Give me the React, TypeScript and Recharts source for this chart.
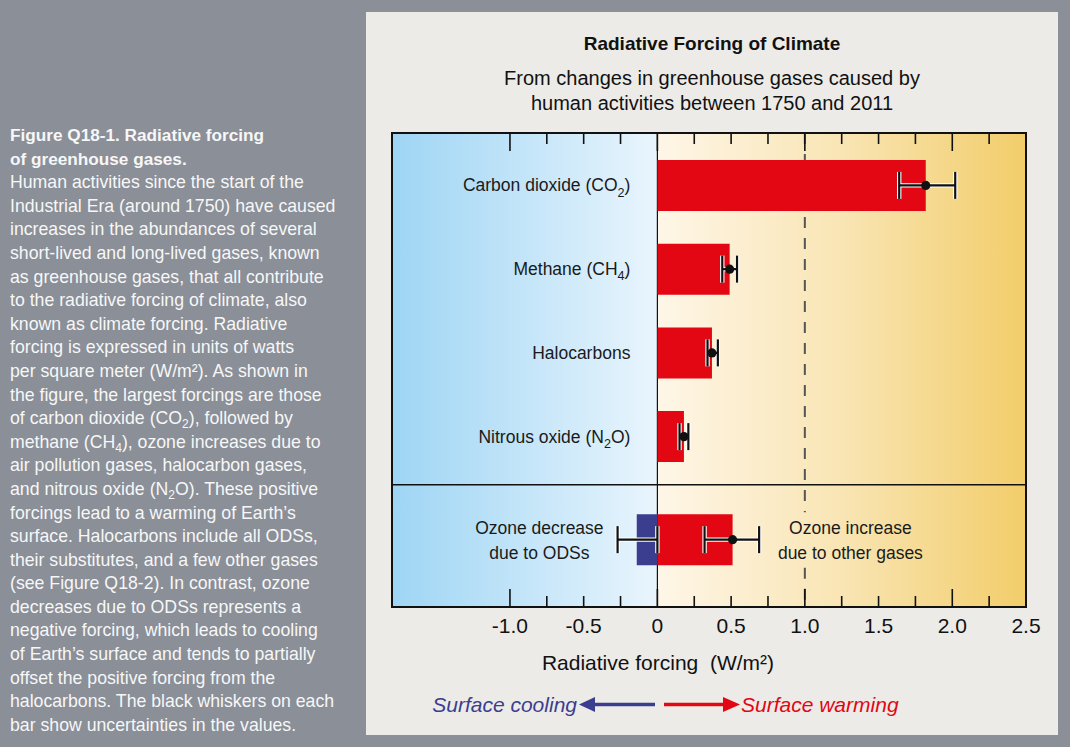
import React from "react";
import { Bar, BarChart, ErrorBar, ReferenceArea, ReferenceLine, XAxis, YAxis } from "recharts";

// rows of the chart, top to bottom; "_2" marks a subscript
const GASES = ["Carbon dioxide (CO_2)", "Methane (CH_4)", "Halocarbons", "Nitrous oxide (N_2O)", "Ozone"];
const ROW = [1, 2, 3, 4, 5.23];
const WARMING = [1.82, 0.49, 0.37, 0.18, 0.51];
const WARMING_LOW = [1.64, 0.44, 0.34, 0.15, 0.32];
const WARMING_HIGH = [2.02, 0.54, 0.41, 0.21, 0.69];
const COOLING: (number | null)[] = [null, null, null, null, -0.14];
const COOLING_LOW: (number | null)[] = [null, null, null, null, -0.27];
const COOLING_HIGH: (number | null)[] = [null, null, null, null, 0.0];
const OZONE_DECREASE = ["Ozone decrease", "due to ODSs"];
const OZONE_INCREASE = ["Ozone increase", "due to other gases"];

const X_DOMAIN: [number, number] = [-1.8, 2.5];
const X_TICKS = [-1, -0.75, -0.5, -0.25, 0, 0.25, 0.5, 0.75, 1, 1.25, 1.5, 1.75, 2, 2.25, 2.5];
const X_LABELED = [-1, -0.5, 0, 0.5, 1, 1.5, 2, 2.5];
const Y_DOMAIN: [number, number] = [0.37, 6.03];
const SECTION_SPLIT = 4.57;
const REFERENCE_LEVEL = 1.0;
// the dashed 1.0 line stops around the ozone labels
const LABEL_GAP = 0.33;

const CAPTION_TITLE = ["Figure Q18-1. Radiative forcing", "of greenhouse gases."];
const CAPTION = [
    "Human activities since the start of the",
    "Industrial Era (around 1750) have caused",
    "increases in the abundances of several",
    "short-lived and long-lived gases, known",
    "as greenhouse gases, that all contribute",
    "to the radiative forcing of climate, also",
    "known as climate forcing. Radiative",
    "forcing is expressed in units of watts",
    "per square meter (W/m\u00b2). As shown in",
    "the figure, the largest forcings are those",
    "of carbon dioxide (CO_2), followed by",
    "methane (CH_4), ozone increases due to",
    "air pollution gases, halocarbon gases,",
    "and nitrous oxide (N_2O). These positive",
    "forcings lead to a warming of Earth\u2019s",
    "surface. Halocarbons include all ODSs,",
    "their substitutes, and a few other gases",
    "(see Figure Q18-2). In contrast, ozone",
    "decreases due to ODSs represents a",
    "negative forcing, which leads to cooling",
    "of Earth\u2019s surface and tends to partially",
    "offset the positive forcing from the",
    "halocarbons. The black whiskers on each",
    "bar show uncertainties in the values.",
];

const FONT = '"Liberation Sans", Arial, sans-serif';
const RED = "#e30613";
const BLUE = "#3b3e8f";

const data = GASES.map((name, i) => {
    const cool = COOLING[i];
    return {
        name,
        row: ROW[i],
        warm: WARMING[i],
        warmErr: [WARMING[i] - WARMING_LOW[i], WARMING_HIGH[i] - WARMING[i]],
        cool: cool ?? undefined,
        coolErr:
            cool == null ? undefined : [cool - (COOLING_LOW[i] as number), (COOLING_HIGH[i] as number) - cool],
    };
});

const ozoneRow = ROW[ROW.length - 1];

function svgRich(s: string, size: number) {
    const parts = s.split(/_(\d)/);
    return parts.map((p, k) =>
        k % 2 === 1 ? (
            <tspan key={k} fontSize={size * 0.72} dy={size * 0.3}>
                {p}
            </tspan>
        ) : (
            <tspan key={k} dy={k > 0 ? -size * 0.3 : 0}>
                {p}
            </tspan>
        )
    );
}

function htmlRich(s: string) {
    const parts = s.split(/_(\d)/);
    return parts.map((p, k) =>
        k % 2 === 1 ? (
            <sub key={k} style={{ fontSize: "0.68em", verticalAlign: "-0.3em", lineHeight: 0 }}>
                {p}
            </sub>
        ) : (
            <React.Fragment key={k}>{p}</React.Fragment>
        )
    );
}

function TwoLines({ x, cy, lines }: { x: number; cy: number; lines: string[] }) {
    return (
        <text x={x} textAnchor="middle" fontSize={17.5} fill="#1a1a1a" fontFamily={FONT}>
            {lines.map((l, k) => (
                <tspan key={k} x={x} y={cy - 12 + k * 25 + 6}>
                    {l}
                </tspan>
            ))}
        </text>
    );
}

function box(props: any) {
    const vb = props.viewBox && props.viewBox.width !== undefined ? props.viewBox : props;
    const left = Math.min(vb.x, vb.x + vb.width);
    const right = Math.max(vb.x, vb.x + vb.width);
    return { left, right, cy: vb.y + vb.height / 2 };
}

function WarmMarks(props: any) {
    const d = data[props.index];
    if (!d) return null;
    const { left, right, cy } = box(props);
    return (
        <g>
            <circle cx={right} cy={cy} r={4.6} fill="#111" />
            {d.cool == null ? (
                <text x={left - 27} y={cy + 6} textAnchor="end" fontSize={17.5} fill="#1a1a1a" fontFamily={FONT}>
                    {svgRich(d.name, 17.5)}
                </text>
            ) : (
                <>
                    <TwoLines x={left - 118} cy={cy} lines={OZONE_DECREASE} />
                    <TwoLines x={left + 193} cy={cy} lines={OZONE_INCREASE} />
                </>
            )}
        </g>
    );
}

function CoolMarks(props: any) {
    const d = data[props.index];
    if (!d || d.cool == null) return null;
    const { left, cy } = box(props);
    return <circle cx={left} cy={cy} r={4.6} fill="#111" />;
}

function BottomTick({ x, y, payload }: any) {
    const v = payload.value;
    const len = Number.isInteger(v) ? 18 : 11;
    return (
        <g>
            <line x1={x} x2={x} y1={y} y2={y - len} stroke="#111" strokeWidth={1.6} />
            {X_LABELED.includes(v) && (
                <text x={x} y={y + 26} textAnchor="middle" fontSize={21} fill="#111" fontFamily={FONT}>
                    {v === 0 ? "0" : v.toFixed(1)}
                </text>
            )}
        </g>
    );
}

function TopTick({ x, y, payload }: any) {
    const len = Number.isInteger(payload.value) ? 18 : 11;
    return <line x1={x} x2={x} y1={y} y2={y + len} stroke="#111" strokeWidth={1.6} />;
}

function ForcingChart() {
    return (
        <BarChart
            width={692}
            height={723}
            data={data}
            layout="vertical"
            stackOffset="sign"
            margin={{ top: 91, right: 32, bottom: 98, left: 26 }}
        >
            <defs>
                <linearGradient id="coolBg" x1="0" y1="0" x2="1" y2="0">
                    <stop offset="0" stopColor="#9ed5f4" />
                    <stop offset="1" stopColor="#e9f5fd" />
                </linearGradient>
                <linearGradient id="warmBg" x1="0" y1="0" x2="1" y2="0">
                    <stop offset="0" stopColor="#fef6e7" />
                    <stop offset="0.5" stopColor="#f9e5b4" />
                    <stop offset="1" stopColor="#f2cd6a" />
                </linearGradient>
            </defs>
            <XAxis
                type="number"
                domain={X_DOMAIN}
                allowDataOverflow
                ticks={X_TICKS}
                interval={0}
                height={30}
                axisLine={false}
                tickLine={false}
                tickSize={0}
                tickMargin={0}
                tick={<BottomTick />}
            />
            <XAxis
                xAxisId="top"
                orientation="top"
                type="number"
                domain={X_DOMAIN}
                allowDataOverflow
                ticks={X_TICKS}
                interval={0}
                height={30}
                axisLine={false}
                tickLine={false}
                tickSize={0}
                tickMargin={0}
                tick={<TopTick />}
            />
            <YAxis type="number" dataKey="row" domain={Y_DOMAIN} hide allowDataOverflow />
            <ReferenceArea x1={X_DOMAIN[0]} x2={0} fill="url(#coolBg)" fillOpacity={1} zIndex={50} />
            <ReferenceArea x1={0} x2={X_DOMAIN[1]} fill="url(#warmBg)" fillOpacity={1} zIndex={50} />
            <ReferenceLine
                segment={[
                    { x: REFERENCE_LEVEL, y: Y_DOMAIN[0] },
                    { x: REFERENCE_LEVEL, y: ozoneRow - LABEL_GAP },
                ]}
                stroke="#555"
                strokeWidth={2}
                strokeDasharray="11 10"
                zIndex={150}
            />
            <ReferenceLine
                segment={[
                    { x: REFERENCE_LEVEL, y: ozoneRow + LABEL_GAP },
                    { x: REFERENCE_LEVEL, y: Y_DOMAIN[1] },
                ]}
                stroke="#555"
                strokeWidth={2}
                strokeDasharray="11 10"
                zIndex={150}
            />
            <ReferenceLine x={0} stroke="#111" strokeWidth={1.2} zIndex={150} />
            <ReferenceLine y={SECTION_SPLIT} stroke="#111" strokeWidth={1.6} zIndex={150} />
            <Bar dataKey="warm" stackId="f" fill={RED} barSize={51} isAnimationActive={false} label={WarmMarks}>
                <ErrorBar dataKey="warmErr" direction="x" width={13.5} stroke="#fff" strokeWidth={4.4} isAnimationActive={false} />
                <ErrorBar dataKey="warmErr" direction="x" width={13.5} stroke="#111" strokeWidth={2.2} isAnimationActive={false} />
            </Bar>
            <Bar dataKey="cool" stackId="f" fill={BLUE} barSize={51} isAnimationActive={false} label={CoolMarks}>
                <ErrorBar dataKey="coolErr" direction="x" width={13.5} stroke="#fff" strokeWidth={4.4} isAnimationActive={false} />
                <ErrorBar dataKey="coolErr" direction="x" width={13.5} stroke="#111" strokeWidth={2.2} isAnimationActive={false} />
            </Bar>
            <ReferenceArea x1={X_DOMAIN[0]} x2={X_DOMAIN[1]} fill="none" stroke="#111" strokeWidth={2} zIndex={700} />
        </BarChart>
    );
}

export default function App() {
    return (
        <div
            style={{
                position: "absolute",
                left: 0,
                top: 0,
                width: 1070,
                height: 747,
                background: "#8a8f98",
                overflow: "hidden",
                fontFamily: FONT,
            }}
        >
            <div
                style={{
                    position: "absolute",
                    left: 10,
                    top: 124,
                    color: "#f7f7f7",
                    fontSize: 17.7,
                    lineHeight: "23.6px",
                    whiteSpace: "nowrap",
                }}
            >
                {CAPTION_TITLE.map((l) => (
                    <div key={l} style={{ fontWeight: "bold", fontSize: 17.2 }}>
                        {l}
                    </div>
                ))}
                {CAPTION.map((l) => (
                    <div key={l}>{htmlRich(l)}</div>
                ))}
            </div>
            <div
                style={{
                    position: "absolute",
                    left: 366,
                    top: 12,
                    width: 692,
                    height: 723,
                    background: "#ecebe7",
                    color: "#111",
                }}
            >
                <div
                    style={{
                        position: "absolute",
                        top: 20,
                        width: "100%",
                        textAlign: "center",
                        fontWeight: "bold",
                        fontSize: 19,
                        lineHeight: "24px",
                    }}
                >
                    Radiative Forcing of Climate
                </div>
                <div
                    style={{
                        position: "absolute",
                        top: 54,
                        width: "100%",
                        textAlign: "center",
                        fontSize: 20,
                        lineHeight: "25px",
                    }}
                >
                    <div>From changes in greenhouse gases caused by</div>
                    <div>human activities between 1750 and 2011</div>
                </div>
                <div style={{ position: "absolute", left: 0, top: 0 }}>
                    <ForcingChart />
                </div>
                <div
                    style={{
                        position: "absolute",
                        left: 0,
                        top: 638,
                        width: 584,
                        textAlign: "center",
                        fontSize: 21,
                        lineHeight: "26px",
                        whiteSpace: "pre",
                    }}
                >
                    {"Radiative forcing  (W/m\u00b2)"}
                </div>
                <svg
                    width={692}
                    height={40}
                    style={{ position: "absolute", left: 0, top: 672 }}
                    fontFamily={FONT}
                >
                    <text x={211} y={28} textAnchor="end" fontSize={21} fontStyle="italic" fill={BLUE}>
                        Surface cooling
                    </text>
                    <line x1={226} x2={289} y1={20.5} y2={20.5} stroke={BLUE} strokeWidth={3.5} />
                    <polygon points="213,20.5 229,13 229,28" fill={BLUE} />
                    <line x1={298} x2={360} y1={20.5} y2={20.5} stroke={RED} strokeWidth={3.5} />
                    <polygon points="374,20.5 357,13 357,28" fill={RED} />
                    <text x={375} y={28} fontSize={21} fontStyle="italic" fill={RED}>
                        Surface warming
                    </text>
                </svg>
            </div>
        </div>
    );
}
